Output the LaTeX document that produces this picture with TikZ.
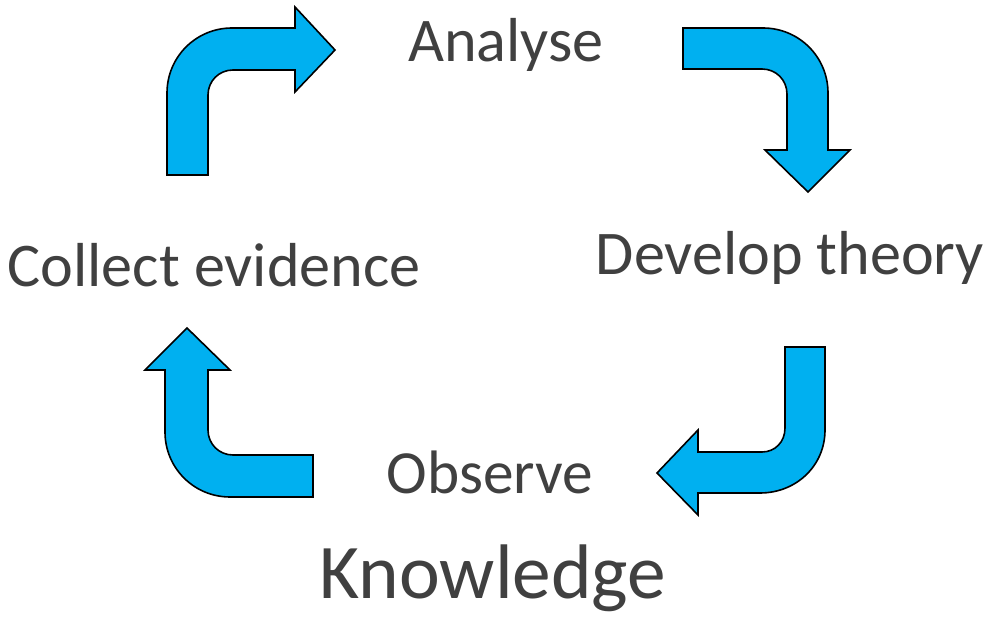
\documentclass[tikz,border=0pt]{standalone}
\usepackage{fontspec}
\setmainfont{Carlito}
\begin{document}
\begin{tikzpicture}[x=0.75pt,y=-0.75pt,
  arr/.style={fill={rgb,255:red,0;green,176;blue,240},draw=black,line width=1.2pt,line join=miter},
  lbl/.style={text={rgb,255:red,64;green,64;blue,64},inner sep=0pt}]
\useasboundingbox (0,0) rectangle (1000,623);
\path[arr] (167,175) -- (167,93) .. controls (167,57) and (196,28) .. (232,28) -- (295,28) -- (295,7) -- (335,50) -- (295,92) -- (295,70) -- (233,70) .. controls (219,70) and (208,81) .. (208,95) -- (208,175) -- cycle;
\path[arr] (683,28) -- (763,28) .. controls (799,28) and (828,57) .. (828,93) -- (828,150) -- (850,150) -- (808,192) -- (765,150) -- (787,150) -- (787,94) .. controls (787,80) and (776,69) .. (762,69) -- (683,69) -- cycle;
\path[arr] (785,347) -- (825,347) -- (825,430) .. controls (825,466) and (796,493) .. (760,493) -- (698,493) -- (698,515) -- (657,473) -- (698,430) -- (698,452) -- (762,452) .. controls (775,452) and (785,442) .. (785,428) -- cycle;
\path[arr] (313,455) -- (233,455) .. controls (219,455) and (208,444) .. (208,430) -- (208,370) -- (230,370) -- (187,328) -- (145,370) -- (165,370) -- (165,432) .. controls (165,468) and (194,497) .. (230,497) -- (313,497) -- cycle;
\node[lbl,font=\fontsize{46.6}{50}\selectfont] (a) at (506,45) {Analyse};
\node[lbl,font=\fontsize{46.6}{50}\selectfont] (d) at (790,258) {Develop theory};
\node[lbl,font=\fontsize{46.6}{50}\selectfont] (c) at (214,265) {Collect evidence};
\node[lbl,font=\fontsize{46}{50}\selectfont] (o) at (490,472) {Observe};
\node[lbl,font=\fontsize{58}{62}\selectfont] (k) at (493,578) {Knowledge};
\end{tikzpicture}
\end{document}
